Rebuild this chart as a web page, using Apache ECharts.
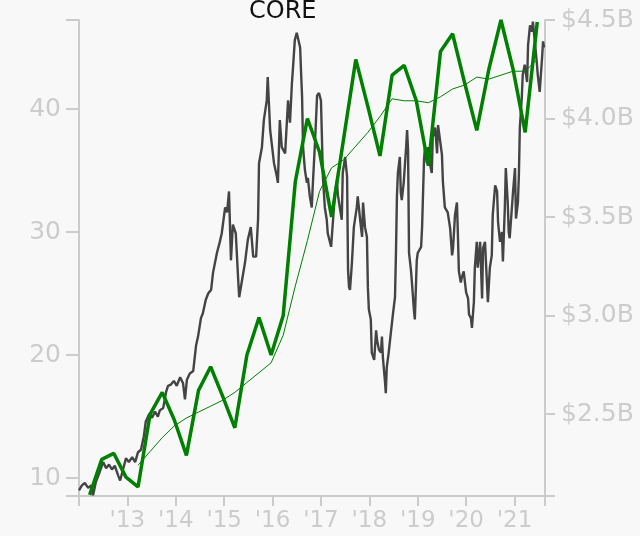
<!DOCTYPE html>
<html>
<head>
<meta charset="utf-8">
<script src="https://cdn.jsdelivr.net/npm/echarts@6/dist/echarts.min.js"></script>
<style>
  html, body { margin: 0; padding: 0; background: #f8f8f8; }
  #chart { width: 640px; height: 536px; }
</style>
</head>
<body>
<div id="chart"></div>
<script>
// share price (left axis)
var priceYears = [
  2012.00, 2012.06, 2012.12, 2012.19, 2012.25, 2012.29, 2012.35, 2012.41, 2012.50, 2012.56,
  2012.62, 2012.68, 2012.74, 2012.81, 2012.85, 2012.91, 2012.97, 2013.03, 2013.10, 2013.16,
  2013.22, 2013.28, 2013.34, 2013.38, 2013.45, 2013.51, 2013.57, 2013.63, 2013.67, 2013.74,
  2013.80, 2013.84, 2013.90, 2013.96, 2014.02, 2014.09, 2014.15, 2014.19, 2014.23, 2014.29,
  2014.36, 2014.42, 2014.46, 2014.52, 2014.56, 2014.62, 2014.67, 2014.73, 2014.77, 2014.85,
  2014.91, 2014.95, 2015.02, 2015.06, 2015.10, 2015.14, 2015.18, 2015.24, 2015.29, 2015.31,
  2015.37, 2015.43, 2015.49, 2015.55, 2015.60, 2015.66, 2015.70, 2015.72, 2015.78, 2015.82,
  2015.88, 2015.90, 2015.95, 2015.99, 2016.03, 2016.09, 2016.11, 2016.15, 2016.19, 2016.26,
  2016.32, 2016.36, 2016.40, 2016.42, 2016.46, 2016.50, 2016.52, 2016.57, 2016.59, 2016.61,
  2016.63, 2016.67, 2016.71, 2016.73, 2016.77, 2016.81, 2016.83, 2016.88, 2016.92, 2016.96,
  2017.00, 2017.02, 2017.04, 2017.08, 2017.12, 2017.14, 2017.21, 2017.25, 2017.29, 2017.33,
  2017.35, 2017.39, 2017.43, 2017.45, 2017.50, 2017.54, 2017.56, 2017.58, 2017.60, 2017.64,
  2017.68, 2017.74, 2017.76, 2017.81, 2017.85, 2017.87, 2017.91, 2017.95, 2017.97, 2017.99,
  2018.03, 2018.05, 2018.10, 2018.14, 2018.16, 2018.20, 2018.24, 2018.26, 2018.28, 2018.32,
  2018.34, 2018.36, 2018.40, 2018.45, 2018.49, 2018.53, 2018.55, 2018.57, 2018.59, 2018.63,
  2018.65, 2018.67, 2018.71, 2018.76, 2018.78, 2018.80, 2018.82, 2018.86, 2018.88, 2018.92,
  2018.94, 2018.98, 2019.00, 2019.07, 2019.09, 2019.13, 2019.15, 2019.19, 2019.21, 2019.25,
  2019.29, 2019.31, 2019.36, 2019.40, 2019.42, 2019.46, 2019.50, 2019.52, 2019.56, 2019.62,
  2019.67, 2019.71, 2019.73, 2019.77, 2019.81, 2019.83, 2019.85, 2019.89, 2019.91, 2019.95,
  2020.00, 2020.04, 2020.06, 2020.10, 2020.12, 2020.16, 2020.18, 2020.22, 2020.24, 2020.29,
  2020.33, 2020.35, 2020.39, 2020.43, 2020.45, 2020.49, 2020.53, 2020.55, 2020.60, 2020.64,
  2020.66, 2020.70, 2020.74, 2020.76, 2020.80, 2020.82, 2020.86, 2020.88, 2020.90, 2020.95,
  2020.97, 2021.01, 2021.03, 2021.07, 2021.09, 2021.11, 2021.15, 2021.17, 2021.21, 2021.26,
  2021.28, 2021.32, 2021.36, 2021.38, 2021.42, 2021.46, 2021.48, 2021.52, 2021.57, 2021.59,
  2021.61
];
var priceValues = [
  9.0, 9.4, 9.6, 9.2, 9.4, 8.6, 9.7, 10.3, 11.3, 10.8,
  11.1, 10.7, 11.0, 10.2, 9.8, 10.7, 11.6, 11.3, 11.7, 11.3,
  12.1, 12.3, 13.4, 14.6, 15.2, 14.9, 15.4, 15.0, 15.5, 15.7,
  17.0, 17.5, 17.6, 17.9, 17.5, 18.2, 17.7, 16.4, 18.0, 18.5,
  18.7, 20.8, 21.5, 23.0, 23.4, 24.5, 25.0, 25.3, 26.7, 28.3,
  29.2, 29.9, 32.0, 31.6, 33.3, 27.7, 30.6, 29.9, 26.1, 24.7,
  26.1, 27.5, 29.4, 30.4, 28.0, 28.0, 31.0, 35.6, 36.9, 39.1,
  40.7, 42.6, 38.3, 38.3, 35.6, 34.5, 34.0, 39.1, 36.9, 36.4,
  40.7, 38.9, 42.1, 43.2, 45.6, 46.2, 46.3, 45.0, 42.9, 41.0,
  36.9, 35.0, 34.0, 34.4, 32.9, 32.0, 33.7, 37.5, 41.1, 41.3,
  40.7, 37.7, 34.5, 32.0, 31.0, 29.9, 28.8, 31.0, 33.2, 34.2,
  33.0, 32.0, 31.0, 34.8, 36.1, 34.5, 26.9, 25.5, 25.3, 27.5,
  30.4, 32.0, 32.9, 31.0, 29.6, 32.4, 30.4, 29.6, 25.5, 23.7,
  22.9, 20.2, 19.6, 22.0, 21.2, 20.4, 20.2, 21.5, 19.8, 18.0,
  16.9, 19.0, 20.2, 22.0, 23.4, 24.7, 28.3, 32.9, 34.8, 36.1,
  33.2, 32.6, 34.0, 36.9, 38.3, 36.7, 28.3, 26.9, 25.9, 23.7,
  22.9, 27.7, 28.3, 28.8, 30.4, 35.9, 36.9, 35.6, 36.9, 35.6,
  34.8, 37.7, 38.5, 36.4, 38.7, 38.7, 36.3, 34.1, 32.0, 31.6,
  30.3, 28.1, 28.7, 31.4, 32.4, 29.8, 26.8, 25.9, 26.3, 26.8,
  25.1, 24.6, 23.3, 23.0, 22.2, 24.3, 27.1, 29.2, 27.1, 29.2,
  24.6, 28.7, 29.2, 25.9, 24.3, 27.1, 28.1, 31.4, 33.8, 33.3,
  30.8, 29.2, 30.0, 27.6, 32.0, 35.2, 32.4, 30.0, 29.5, 32.2,
  33.3, 35.2, 31.1, 32.4, 34.6, 38.5, 40.9, 42.8, 43.6, 42.2,
  45.2, 46.8, 46.3, 47.1, 45.5, 43.8, 42.8, 41.4, 44.2, 45.5,
  45.0
];

// quarterly revenue and its trailing average, $B (right axis)
var revYears = [
  2012.22, 2012.47, 2012.72, 2012.97, 2013.22, 2013.47, 2013.72, 2013.97,
  2014.22, 2014.47, 2014.72, 2014.97, 2015.22, 2015.47, 2015.72, 2015.97,
  2016.22, 2016.47, 2016.72, 2016.97, 2017.22, 2017.47, 2017.72, 2017.97,
  2018.22, 2018.47, 2018.72, 2018.97, 2019.22, 2019.47, 2019.72, 2019.97,
  2020.22, 2020.47, 2020.72, 2020.97, 2021.22, 2021.47
];
var revValues = [
  2.09, 2.27, 2.30, 2.18, 2.13, 2.50, 2.61, 2.47,
  2.29, 2.62, 2.74, 2.59, 2.43, 2.80, 2.99, 2.80,
  3.00, 3.68, 4.00, 3.83, 3.50, 3.90, 4.30, 4.06,
  3.81, 4.22, 4.27, 4.09, 3.76, 4.34, 4.43, 4.18,
  3.94, 4.25, 4.50, 4.25, 3.93, 4.49
];
var ttmValues = [
  null, null, null, null, 2.24, 2.31, 2.38, 2.44,
  2.48, 2.51, 2.54, 2.57, 2.61, 2.66, 2.71, 2.76,
  2.90, 3.15, 3.38, 3.63, 3.75, 3.79, 3.86, 3.93,
  4.01, 4.10, 4.09, 4.09, 4.08, 4.11, 4.15, 4.17,
  4.21, 4.20, 4.22, 4.24, 4.24, 4.30
];

var xTicks = [2012, 2013, 2014, 2015, 2016, 2017, 2018, 2019, 2020, 2021, 2021.63];
var xLabels = [2013, 2014, 2015, 2016, 2017, 2018, 2019, 2020, 2021];
var priceTicks = [8.54, 10, 20, 30, 40, 47.24];
var priceLabels = [10, 20, 30, 40];
var revTicks = [2.084, 2.5, 3.0, 3.5, 4.0, 4.5];
var revLabels = [2.5, 3.0, 3.5, 4.0, 4.5];

function pairs(xs, ys) {
    return xs.map(function (x, i) { return [x, ys[i]]; });
}

var axisGray = '#cbcbcb';
var labelGray = '#cccccc';
var font = 'DejaVu Sans';

var myChart = echarts.init(document.getElementById('chart'));

var option = {
    animation: false,
    backgroundColor: '#f8f8f8',
    title: {
        text: 'CORE',
        left: 249,
        top: 0,
        padding: 0,
        textStyle: { color: '#111', fontSize: 24, fontWeight: 'normal', fontFamily: font }
    },
    grid: { left: 79, right: 95, top: 20, bottom: 40 },
    xAxis: {
        type: 'value',
        min: 2012,
        max: 2021.63,
        axisLine: { show: true, onZero: false, lineStyle: { color: axisGray, width: 2 } },
        axisTick: { show: true, length: 10, customValues: xTicks, lineStyle: { color: axisGray, width: 2 } },
        axisLabel: {
            customValues: xLabels,
            color: labelGray,
            fontSize: 23,
            fontFamily: font,
            margin: 14,
            formatter: function (v) { return "'" + String(Math.round(v)).slice(2); }
        },
        splitLine: { show: false }
    },
    yAxis: [
        {
            type: 'value',
            position: 'left',
            min: 8.54,
            max: 47.24,
            axisLine: { show: true, lineStyle: { color: axisGray, width: 2 } },
            axisTick: { show: true, length: 13, customValues: priceTicks, lineStyle: { color: axisGray, width: 2 } },
            axisLabel: { customValues: priceLabels, color: labelGray, fontSize: 25, fontFamily: font, margin: 18 },
            splitLine: { show: false }
        },
        {
            type: 'value',
            position: 'right',
            min: 2.084,
            max: 4.5,
            axisLine: { show: true, lineStyle: { color: axisGray, width: 2 } },
            axisTick: { show: true, length: 10, customValues: revTicks, lineStyle: { color: axisGray, width: 2 } },
            axisLabel: {
                customValues: revLabels,
                color: labelGray,
                fontSize: 25,
                fontFamily: font,
                margin: 16,
                formatter: function (v) { return '$' + v.toFixed(1) + 'B'; }
            },
            splitLine: { show: false }
        }
    ],
    series: [
        {
            name: 'price',
            type: 'line',
            yAxisIndex: 0,
            showSymbol: false,
            data: pairs(priceYears, priceValues),
            lineStyle: { color: '#444444', width: 2.4 },
            z: 2
        },
        {
            name: 'revenue',
            type: 'line',
            yAxisIndex: 1,
            showSymbol: false,
            data: pairs(revYears, revValues),
            lineStyle: { color: '#008000', width: 3.5 },
            z: 3
        },
        {
            name: 'ttm',
            type: 'line',
            yAxisIndex: 1,
            showSymbol: false,
            data: pairs(revYears, ttmValues),
            lineStyle: { color: '#008000', width: 1 },
            z: 3
        }
    ]
};

myChart.setOption(option);
</script>
</body>
</html>
